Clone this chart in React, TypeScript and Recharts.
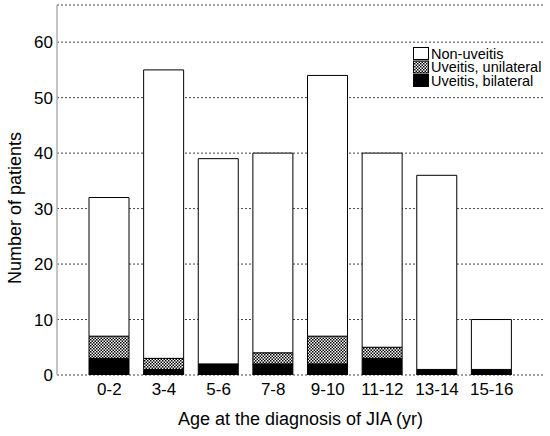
import React from "react";
import { BarChart, Bar, XAxis, YAxis, CartesianGrid } from "recharts";

const categories = ["0-2", "3-4", "5-6", "7-8", "9-10", "11-12", "13-14", "15-16"];
const bilateral = [3, 1, 2, 2, 2, 3, 1, 1];
const unilateral = [4, 2, 0, 2, 5, 2, 0, 0];
const nonUveitis = [25, 52, 37, 36, 47, 35, 35, 9];
const yTicks = [0, 10, 20, 30, 40, 50, 60];
const legendLabels = ["Non-uveitis", "Uveitis, unilateral", "Uveitis, bilateral"];
const legendFills = ["#ffffff", "url(#checkBar)", "#000000"];

const data = categories.map((c, i) => ({
  age: c,
  bilateral: bilateral[i],
  unilateral: unilateral[i],
  nonUveitis: nonUveitis[i],
}));

const FONT = "'Liberation Sans', Arial, sans-serif";

const LegendBlock = () => (
  <g>
    {legendLabels.map((label, idx) => {
      const y = 47 + idx * 13.5;
      return (
        <g key={label}>
          <rect x={413.5} y={y + 0.5} width={15} height={12} fill={legendFills[idx]} stroke="#000" strokeWidth={1} />
          <text x={431} y={y + 6.5} dominantBaseline="central" fontFamily={FONT} fontSize={14.5} fill="#000">
            {label}
          </text>
        </g>
      );
    })}
  </g>
);

const YLabel = () => (
  <text
    x={15}
    y={208}
    transform="rotate(-90 15 208)"
    textAnchor="middle"
    dominantBaseline="central"
    fontFamily={FONT}
    fontSize={18}
    fill="#000"
  >
    Number of patients
  </text>
);

export default function App() {
  return (
    <div style={{ position: "absolute", left: 0, top: 0, width: 550, height: 436, background: "#fff" }}>
      <BarChart
        width={550}
        height={436}
        data={data}
        margin={{ top: 5, right: 6, bottom: 0, left: 0 }}
        barSize={40}
      >
        <defs>
          <pattern id="checkBar" width={3} height={3} patternUnits="userSpaceOnUse">
            <rect width={3} height={3} fill="#fff" />
            <rect x={0} y={0} width={1.5} height={1.5} fill="#000" />
            <rect x={1.5} y={1.5} width={1.5} height={1.5} fill="#000" />
          </pattern>
        </defs>
        <CartesianGrid vertical={false} stroke="#444" strokeDasharray="2 2" />
        <XAxis
          dataKey="age"
          height={61}
          axisLine={false}
          tickLine={false}
          tickSize={0}
          tickMargin={8}
          padding={{ left: 25, right: 25 }}
          tick={{ fontFamily: FONT, fontSize: 17, fill: "#000" }}
          label={{
            value: "Age at the diagnosis of JIA (yr)",
            position: "insideBottom",
            offset: 11,
            style: { fontFamily: FONT, fontSize: 18, fill: "#000" },
          }}
        />
        <YAxis
          width={57}
          domain={[0, 66.7]}
          ticks={yTicks}
          allowDataOverflow
          axisLine={{ stroke: "#b0b0b0", strokeWidth: 1.5 }}
          tickLine={false}
          tickSize={0}
          tickMargin={4}
          tick={{ fontFamily: FONT, fontSize: 17, fill: "#000" }}
        />
        <Bar dataKey="bilateral" stackId="a" fill="#000" stroke="#000" strokeWidth={1} isAnimationActive={false} />
        <Bar dataKey="unilateral" stackId="a" fill="url(#checkBar)" stroke="#000" strokeWidth={1} isAnimationActive={false} />
        <Bar dataKey="nonUveitis" stackId="a" fill="#fff" stroke="#000" strokeWidth={1} isAnimationActive={false} />
        <LegendBlock />
        <YLabel />
      </BarChart>
    </div>
  );
}
